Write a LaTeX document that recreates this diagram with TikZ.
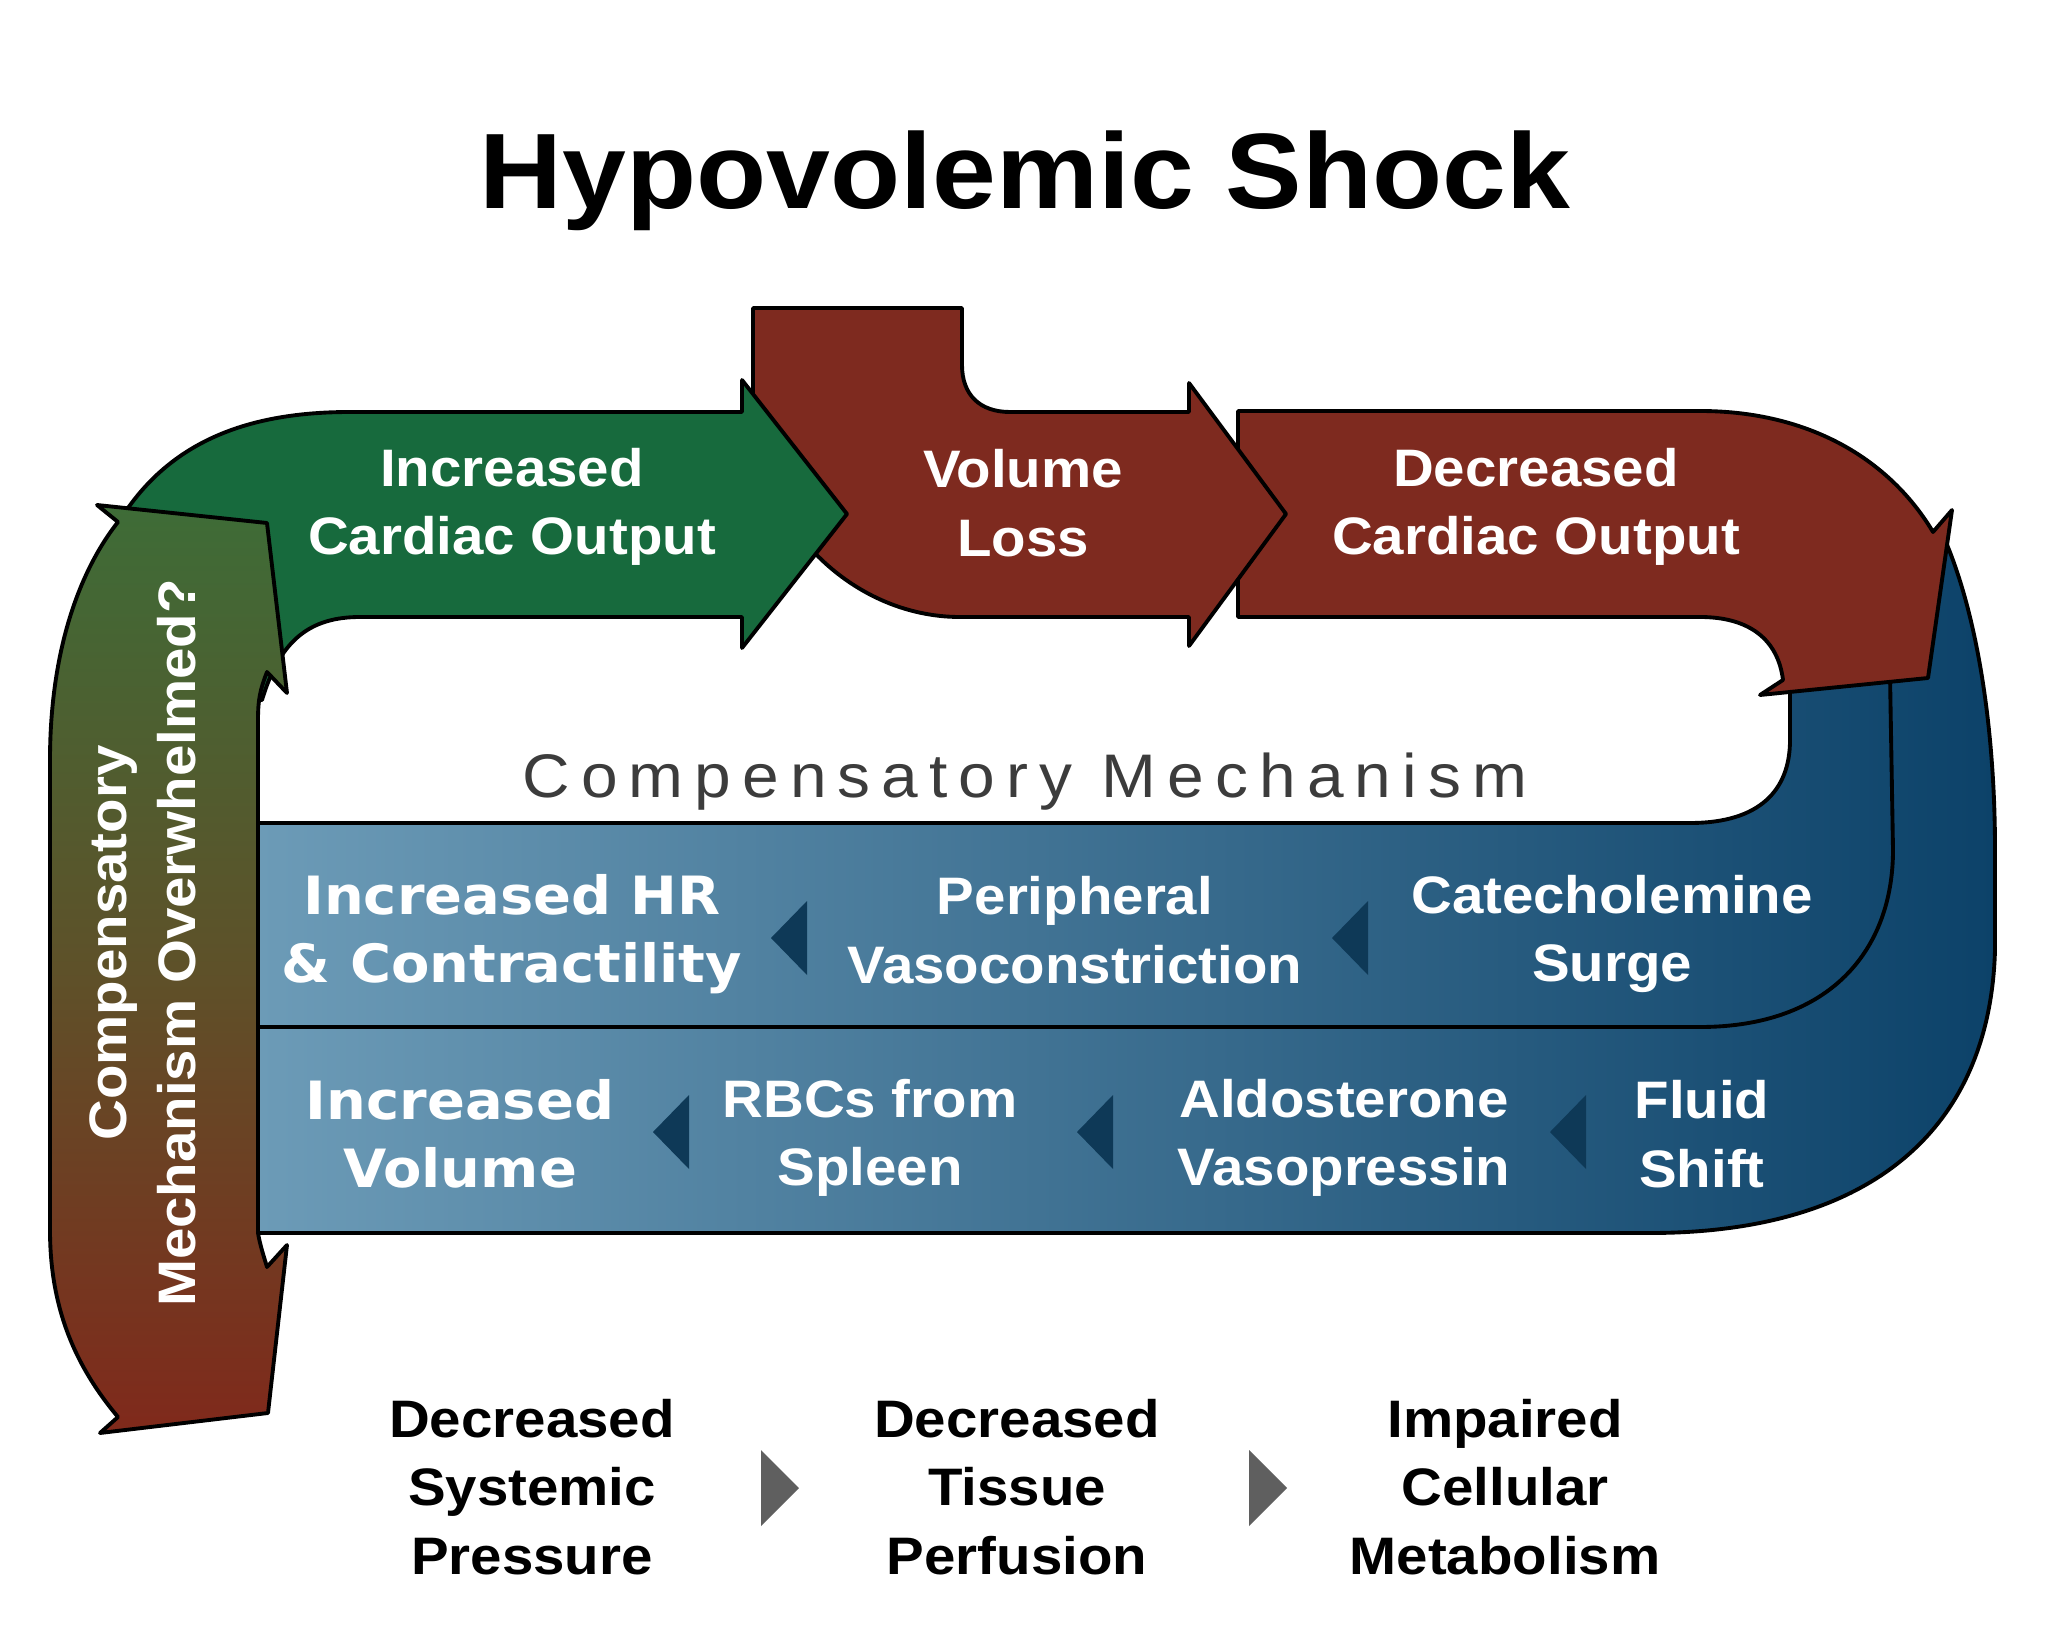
\documentclass[tikz,border=0pt]{standalone}
\usepackage{fontspec}
\setmainfont{Liberation Sans}[FakeStretch=1.07]
\newfontfamily\heavyfont{DejaVu Sans}[FakeStretch=1.06]
\usetikzlibrary{positioning}

\definecolor{arrowgreen}{HTML}{176A3D}
\definecolor{arrowred}{HTML}{7E2A1F}
\definecolor{bargreen}{HTML}{3E6C37}
\definecolor{barmid}{HTML}{5E5129}
\definecolor{barred}{HTML}{80291B}
\definecolor{bandlight}{HTML}{6C9BB7}
\definecolor{banddark}{HTML}{0C4269}
\definecolor{marknavy}{HTML}{0E3957}
\definecolor{markgray}{HTML}{5F5F5F}
\definecolor{mechgray}{HTML}{3C3C3C}

\begin{document}
\begin{tikzpicture}
[x=0.01cm,y=-0.01cm,
 outline/.style={draw=black,line width=1.1pt,line join=round},
 lbl/.style={text=white,align=center,inner sep=0pt,font=\bfseries\fontsize{15}{19.5}\selectfont},
 heavylbl/.style={lbl,font=\heavyfont\bfseries\fontsize{15}{19.5}\selectfont},
 outlbl/.style={text=black,align=center,inner sep=0pt,font=\bfseries\fontsize{15}{19.5}\selectfont},
 navymark/.style={fill=marknavy},
 graymark/.style={fill=markgray}]

\useasboundingbox (0,0) rectangle (2048,1646);

% compensatory band
\draw[outline,left color=bandlight,right color=banddark]
  (258,823) -- (1690,823) .. controls (1760,823) and (1790,790) .. (1790,740)
  -- (1790,682) -- (1945,540) .. controls (1975,610) and (1995,720) .. (1995,850)
  -- (1995,950) .. controls (1990,1130) and (1870,1233) .. (1650,1233)
  -- (258,1233) -- cycle;
\draw[outline] (258,1027) -- (1700,1027) .. controls (1830,1027) and (1893,950) .. (1893,850) -- (1890,675);

% decreased cardiac output
\draw[outline,fill=arrowred]
  (1238,411) -- (1700,411) .. controls (1810,411) and (1890,460) .. (1933,532)
  -- (1952,510) -- (1928,678) -- (1760,695) -- (1783,680)
  .. controls (1778,640) and (1750,617) .. (1700,617) -- (1238,617) -- cycle;

% volume loss
\draw[outline,fill=arrowred]
  (753,308) -- (962,308) -- (962,365) .. controls (962,395) and (980,412) .. (1010,412)
  -- (1189,412) -- (1189,383) -- (1286,514) -- (1189,646) -- (1189,617)
  -- (960,617) .. controls (850,617) and (753,520) .. (753,400) -- cycle;

% increased cardiac output
\draw[outline,fill=arrowgreen]
  (350,412) -- (742,412) -- (742,380) -- (847,514) -- (742,648) -- (742,617)
  -- (360,617) .. controls (310,617) and (280,640) .. (262,700)
  -- (150,700) -- (120,520) .. controls (170,440) and (250,412) .. (350,412) -- cycle;

% overwhelmed bar
\draw[outline,top color=bargreen,bottom color=barred,middle color=barmid]
  (97,505) -- (267,523) -- (287,693) -- (267,672)
  .. controls (260,690) and (258,700) .. (258,720) -- (258,1233)
  .. controls (260,1245) and (264,1257) .. (267,1267) -- (287,1245)
  -- (268,1413) -- (100,1433) -- (118,1417)
  .. controls (70,1360) and (50,1300) .. (50,1230) -- (50,760)
  .. controls (50,650) and (80,570) .. (118,522) -- cycle;

\node[anchor=base,font=\bfseries\fontsize{30.5}{36}\selectfont] (title) at (1025,209) {Hypovolemic Shock};

\node[lbl] (incCO) at (512,507) {Increased\\Cardiac Output};
\node[lbl] (volLoss) at (1023,503) {Volume\\Loss};
\node[lbl] (decCO) at (1536,507) {Decreased\\Cardiac Output};
\node[lbl,rotate=90] (overwhelm) at (143,943) {Compensatory\\Mechanism Overwhelmed?};

\node[anchor=base,text=mechgray,font=\fontsize{17.5}{20}\selectfont\addfontfeature{LetterSpace=18}] (mechTitle) at (1025,797) {Compensatory Mechanism};

\node[heavylbl] (incHR) at (512,934) {Increased HR\\\& Contractility};
\node[lbl] (periph) at (1075,930) {Peripheral\\Vasoconstriction};
\node[lbl] (catechol) at (1612,934) {Catecholemine\\Surge};

\node[heavylbl] (incVol) at (460,1134) {Increased\\Volume};
\node[lbl] (rbc) at (870,1138) {RBCs from\\Spleen};
\node[lbl] (aldo) at (1344,1138) {Aldosterone\\Vasopressin};
\node[lbl] (fluid) at (1702,1134) {Fluid\\Shift};

\node[outlbl] (sysPress) at (532,1487) {Decreased\\Systemic\\Pressure};
\node[outlbl] (tissue) at (1017,1487) {Decreased\\Tissue\\Perfusion};
\node[outlbl] (cellMeta) at (1505,1487) {Impaired\\Cellular\\Metabolism};

% markers
\coordinate (hrMark) at (771,938);
\coordinate (periphMark) at (1332,938);
\coordinate (volMark) at (653,1132);
\coordinate (rbcMark) at (1077,1132);
\coordinate (aldoMark) at (1550,1132);
\foreach \m in {hrMark,periphMark,volMark,rbcMark,aldoMark}
  \fill[navymark] (\m) -- ++(36,-37) -- ++(0,74) -- cycle;

\coordinate (pressMark) at (799,1488);
\coordinate (tissueMark) at (1287,1488);
\foreach \m in {pressMark,tissueMark}
  \fill[graymark] (\m) -- ++(-38,-38) -- ++(0,76) -- cycle;

\end{tikzpicture}
\end{document}
